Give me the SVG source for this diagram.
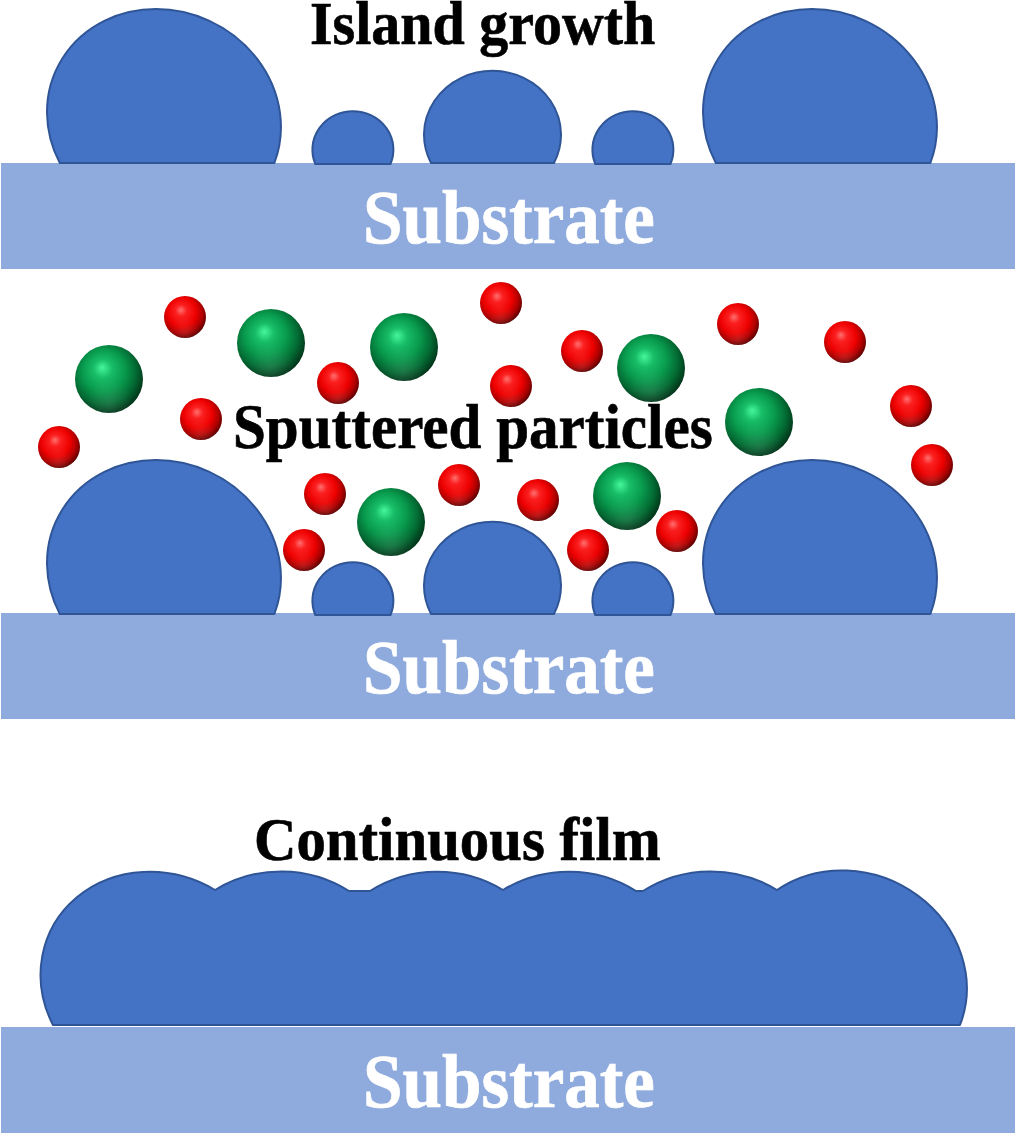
<svg xmlns="http://www.w3.org/2000/svg" width="1016" height="1134" viewBox="0 0 1016 1134">
<style>
.sub{fill:#8faadc}
.isl{fill:#4472c4;stroke:#2f5597;stroke-width:2;stroke-linejoin:round}
text{font-family:"Liberation Serif","Times New Roman",serif;font-weight:bold}
.st{fill:#fff;stroke:#fff;stroke-width:.7;font-size:71px}
.lb{fill:#000;stroke:#000;stroke-width:.6}
</style>
<defs>
<radialGradient id="gg" cx="0.44" cy="0.42" r="0.62" fx="0.4" fy="0.33">
<stop offset="0" stop-color="#45f79b"/><stop offset="0.22" stop-color="#18bd68"/><stop offset="0.5" stop-color="#089a4d"/><stop offset="0.75" stop-color="#036b33"/><stop offset="1" stop-color="#012a14"/>
</radialGradient>
<radialGradient id="rg" cx="0.44" cy="0.42" r="0.62" fx="0.4" fy="0.33">
<stop offset="0" stop-color="#ff7070"/><stop offset="0.22" stop-color="#fb2020"/><stop offset="0.55" stop-color="#ee0000"/><stop offset="0.78" stop-color="#b00000"/><stop offset="1" stop-color="#4a0000"/>
</radialGradient>
<radialGradient id="glow" cx="0.5" cy="0.86" r="0.36">
<stop offset="0" stop-color="#fff" stop-opacity=".1"/><stop offset="1" stop-color="#fff" stop-opacity="0"/>
</radialGradient>
<path id="L" d="M59.8 163A118.7 108.6 25 1 1 274.4 163Z"/>
<path id="S" d="M315.3 164A40.5 38.5 0 1 1 390.5 164Z"/>
<path id="M" d="M431 163A68.5 64 0 1 1 554 163Z"/>
<g id="g"><circle r="34" fill="url(#gg)"/><circle r="34" fill="url(#glow)"/></g>
<g id="r"><circle r="21" fill="url(#rg)"/><circle r="21" fill="url(#glow)"/></g>
</defs>
<rect width="1016" height="1134" fill="#fff"/>
<g id="substrate-1"><rect class="sub" x="1" y="163" width="1014" height="106"/><text class="st" transform="translate(363 243) scale(1 1.06)">Substrate</text></g>
<g id="substrate-2"><rect class="sub" x="1" y="613" width="1014" height="106"/><text class="st" transform="translate(363 693) scale(1 1.06)">Substrate</text></g>
<g id="substrate-3"><rect class="sub" x="1" y="1027" width="1014" height="106"/><text class="st" transform="translate(363 1107) scale(1 1.06)">Substrate</text></g>
<g id="islands-top">
<use href="#L" class="isl"/><use href="#S" class="isl"/><use href="#M" class="isl"/><use href="#S" class="isl" x="280"/><use href="#L" class="isl" x="656"/>
</g>
<g id="islands-mid">
<use href="#L" class="isl" y="451"/><use href="#S" class="isl" y="451"/><use href="#M" class="isl" y="451"/><use href="#S" class="isl" x="280" y="451"/><use href="#L" class="isl" x="656" y="451"/>
</g>
<g id="film"><path class="isl" d="M53 1025A118.7 108.6 25 0 1 215 890A118 108 0 0 1 349 891L370 891A118 108 0 0 1 503 890A118 108 0 0 1 636 891L643 891A118 108 0 0 1 777 890A118.7 108.6 25 0 1 960 1025Z"/></g>
<g id="particles">
<use href="#g" x="109" y="379"/><use href="#g" x="271" y="343"/><use href="#g" x="404" y="347"/><use href="#g" x="651" y="368"/><use href="#g" x="759" y="422"/><use href="#g" x="391" y="522"/><use href="#g" x="627" y="496"/>
<use href="#r" x="185" y="317"/><use href="#r" x="59" y="447"/><use href="#r" x="338" y="383"/><use href="#r" x="201" y="419"/><use href="#r" x="501" y="303"/><use href="#r" x="582" y="351"/><use href="#r" x="511" y="386"/><use href="#r" x="738" y="324"/><use href="#r" x="845" y="342"/><use href="#r" x="911" y="406"/><use href="#r" x="932" y="465"/><use href="#r" x="325" y="494"/><use href="#r" x="304" y="550"/><use href="#r" x="459" y="485"/><use href="#r" x="538" y="500"/><use href="#r" x="588" y="550"/><use href="#r" x="677" y="531"/>
</g>
<g id="labels">
<text class="lb" font-size="58" transform="translate(310 44) scale(1 1.06)">Island growth</text>
<text class="lb" font-size="59.1" transform="translate(233 448) scale(1 1.06)">Sputtered particles</text>
<text class="lb" font-size="58.8" transform="translate(254 860) scale(1 1.06)">Continuous film</text>
</g>
</svg>
